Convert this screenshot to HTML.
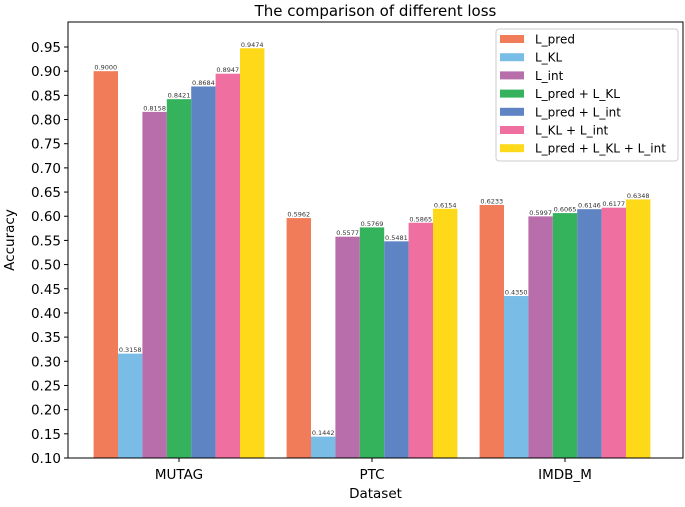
<!DOCTYPE html>
<html><head><meta charset="utf-8"><style>
body{margin:0;background:#fff;font-family:"DejaVu Sans","Liberation Sans",sans-serif}
svg text{font-family:"DejaVu Sans","Liberation Sans",sans-serif}
</style></head><body>
<svg id="c" width="685" height="503"></svg>
<script>
const categories=["MUTAG","PTC","IMDB_M"];
const seriesNames=["L_pred","L_KL","L_int","L_pred + L_KL","L_pred + L_int","L_KL + L_int","L_pred + L_KL + L_int"];
const colors=["#f07c5a","#79bde6","#b86eab","#34b35c","#5f84c4","#ef6fa0","#fdd91a"];
const sLpred=[0.9000,0.5962,0.6233];
const sLKL=[0.3158,0.1442,0.4350];
const sLint=[0.8158,0.5577,0.5997];
const sPredKL=[0.8421,0.5769,0.6065];
const sPredInt=[0.8684,0.5481,0.6146];
const sKLInt=[0.8947,0.5865,0.6177];
const sAll=[0.9474,0.6154,0.6348];
const yTicks=[0.10,0.15,0.20,0.25,0.30,0.35,0.40,0.45,0.50,0.55,0.60,0.65,0.70,0.75,0.80,0.85,0.90,0.95];
const series=[sLpred,sLKL,sLint,sPredKL,sPredInt,sKLInt,sAll];
const NS="http://www.w3.org/2000/svg",svg=document.getElementById('c');
const L=68,R=683,T=22,B=458,yMin=0.10,yMax=1.0017;
const y=v=>B-(v-yMin)/(yMax-yMin)*(B-T);
const x=i=>179+193*i;
const bw=24.4;
function mk(t,a,p){const e=document.createElementNS(NS,t);for(const k in a)e.setAttribute(k,a[k]);(p||svg).appendChild(e);return e;}
let e;
e=mk('text',{x:(L+R)/2,y:16,'text-anchor':'middle','font-size':15,fill:'#000'});e.textContent='The comparison of different loss';


series.forEach((s,si)=>{s.forEach((v,ci)=>{
 const bx=x(ci)+(si-3.5)*bw;
 e=mk('rect',{x:bx,y:y(v),width:bw,height:B-y(v),fill:colors[si]});
 
 
 e=mk('text',{x:bx+bw/2,y:y(v)-1.5,'text-anchor':'middle','font-size':6.5,fill:'#333'});e.textContent=v.toFixed(4);
 
 
});});
e=mk('rect',{x:L,y:T,width:R-L,height:B-T,fill:'none',stroke:'#000','stroke-width':1});


yTicks.forEach(t=>{
 mk('line',{x1:L-4,x2:L,y1:y(t),y2:y(t),stroke:'#000'});
 e=mk('text',{x:L-7,y:y(t)+5,'text-anchor':'end','font-size':13.5,fill:'#000'});e.textContent=t.toFixed(2);
 
 
});
categories.forEach((c,i)=>{
 mk('line',{x1:x(i),x2:x(i),y1:B,y2:B+4,stroke:'#000'});
 e=mk('text',{x:x(i),y:B+21,'text-anchor':'middle','font-size':13.5,fill:'#000'});e.textContent=c;
 
 
});
e=mk('text',{x:(L+R)/2,y:498,'text-anchor':'middle','font-size':13.5,fill:'#000'});e.textContent='Dataset';


e=mk('text',{x:14,y:(T+B)/2,'text-anchor':'middle','font-size':13.5,fill:'#000',transform:`rotate(-90 14 ${(T+B)/2})`});e.textContent='Accuracy';


const lg=mk('g',{});


mk('rect',{x:496,y:29,width:182,height:132,rx:3,fill:'#fff',stroke:'#ccc'},lg);
seriesNames.forEach((n,i)=>{
 const yy=39+i*18.2;
 mk('rect',{x:500,y:yy-4,width:24,height:8,fill:colors[i]},lg);
 e=mk('text',{x:535,y:yy+4.5,'font-size':12,fill:'#000'},lg);e.textContent=n;
 
 
});
</script>
</body></html>
